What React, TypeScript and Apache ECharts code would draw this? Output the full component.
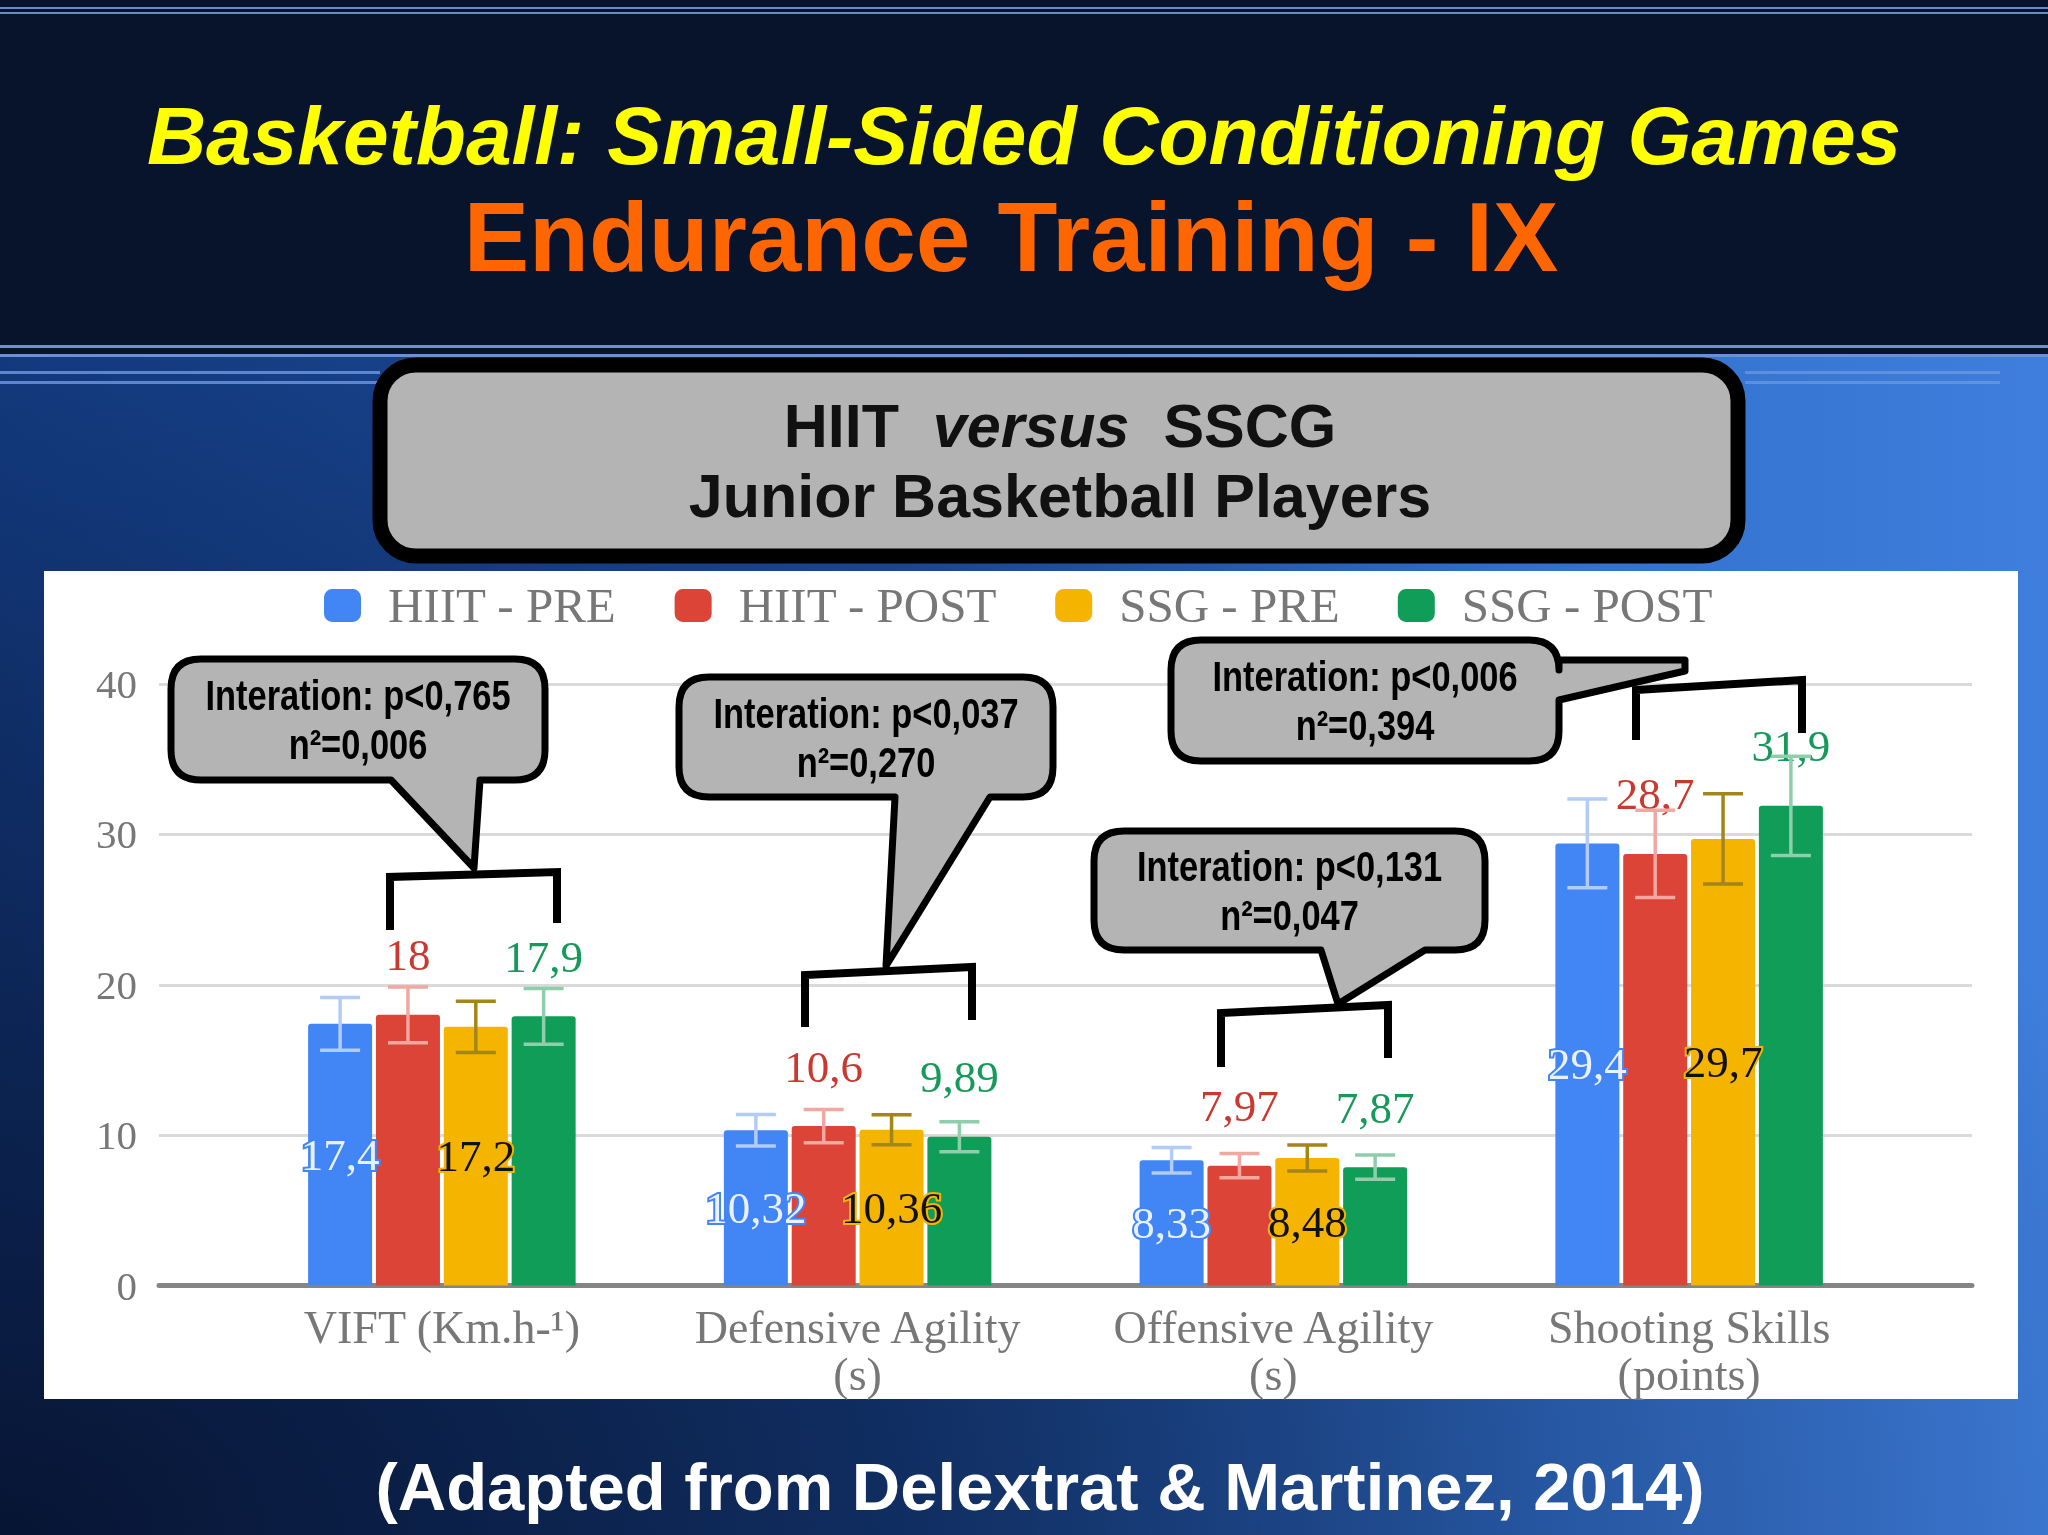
import React, { useEffect, useRef } from 'react';
import * as echarts from 'echarts';

// ---------- data ----------
const categories = ['VIFT (Km.h-¹)', 'Defensive Agility\n(s)', 'Offensive Agility\n(s)', 'Shooting Skills\n(points)'];
const seriesNames = ['HIIT - PRE', 'HIIT - POST', 'SSG - PRE', 'SSG - POST'];
const hiitPre = [17.4, 10.32, 8.33, 29.4];
const hiitPost = [18, 10.6, 7.97, 28.7];
const ssgPre = [17.2, 10.36, 8.48, 29.7];
const ssgPost = [17.9, 9.89, 7.87, 31.9];
const hiitPreErr = [1.75, 1.05, 0.85, 2.95];
const hiitPostErr = [1.85, 1.1, 0.8, 2.9];
const ssgPreErr = [1.7, 1.0, 0.87, 3.0];
const ssgPostErr = [1.85, 1.0, 0.8, 3.3];
const yMin = 0;
const yMax = 40;
const yInterval = 10;
const interactionP = ['0,765', '0,037', '0,131', '0,006'];
const etaSquared = ['0,006', '0,270', '0,047', '0,394'];

const titleLine1 = 'Basketball: Small-Sided Conditioning Games';
const titleLine2 = 'Endurance Training - IX';
const boxLine2 = 'Junior Basketball Players';
const sourceText = '(Adapted from Delextrat & Martinez, 2014)';

// ---------- styles ----------
const barColors = ['#4285f4', '#db4437', '#f4b400', '#0f9d58'];
const errColors = ['#b3cbf7', '#f2a7a0', '#a3851a', '#8dcfab'];
const BAR_W = 64;
const BAR_GAP_RATIO = 0.06;
const CAP_W = 40;
const SERIF = "'Liberation Serif', 'Times New Roman', serif";
const SANS = "'Liberation Sans', Arial, sans-serif";

const fmt = (v: number) => String(v).replace('.', ',');

// ---------- bubble shapes ----------
type Tail =
  | { side: 'bottom'; a: number; b: number; tip: [number, number] }
  | { side: 'right'; a: number; b: number; t1: [number, number]; t2: [number, number] };

function bubblePath(x: number, y: number, w: number, h: number, r: number, tail: Tail) {
  const R = x + w;
  const B = y + h;
  let d = `M${x + r},${y} L${R - r},${y} Q${R},${y} ${R},${y + r} `;
  if (tail.side === 'right') {
    d += `L${R},${tail.a} L${tail.t1[0]},${tail.t1[1]} L${tail.t2[0]},${tail.t2[1]} L${R},${tail.b} `;
  }
  d += `L${R},${B - r} Q${R},${B} ${R - r},${B} `;
  if (tail.side === 'bottom') {
    d += `L${tail.b},${B} L${tail.tip[0]},${tail.tip[1]} L${tail.a},${B} `;
  }
  d += `L${x + r},${B} Q${x},${B} ${x},${B - r} L${x},${y + r} Q${x},${y} ${x + r},${y} Z`;
  return d;
}

const bubbles = [
  { name: 'bubble1', x: 171, y: 659, w: 374, h: 121, tail: { side: 'bottom', a: 391, b: 480, tip: [474, 868] } as Tail },
  { name: 'bubble2', x: 679, y: 677, w: 374, h: 120, tail: { side: 'bottom', a: 895, b: 990, tip: [886, 966] } as Tail },
  { name: 'bubble3', x: 1094, y: 831, w: 391, h: 119, tail: { side: 'bottom', a: 1321, b: 1425, tip: [1338, 1004] } as Tail },
  { name: 'bubble4', x: 1171, y: 640, w: 388, h: 121, tail: { side: 'right', a: 660, b: 700, t1: [1685, 660], t2: [1685, 671] } as Tail },
];

bubbles.forEach((b) => {
  echarts.graphic.registerShape(b.name, echarts.graphic.extendPath(bubblePath(b.x, b.y, b.w, b.h, 30, b.tail), {}) as any);
});

const brackets: number[][][] = [
  [[390, 930], [390, 877], [557, 872], [557, 923]],
  [[805, 1027], [805, 975], [972, 967], [972, 1020]],
  [[1221, 1067], [1221, 1013], [1388, 1005], [1388, 1058]],
  [[1636, 740], [1636, 690], [1802, 680], [1802, 733]],
];

function buildOption() {
  const values = [hiitPre, hiitPost, ssgPre, ssgPost];
  const errs = [hiitPreErr, hiitPostErr, ssgPreErr, ssgPostErr];

  const barSeries = values.map((data, k) => {
    const inside = k === 0 || k === 2;
    return {
      type: 'bar',
      name: seriesNames[k],
      xAxisIndex: 1,
      yAxisIndex: 1,
      data,
      barWidth: BAR_W,
      barGap: `${BAR_GAP_RATIO * 100}%`,
      itemStyle: { color: barColors[k], borderRadius: [3, 3, 0, 0] },
      label: inside
        ? {
            show: true,
            position: 'inside',
            formatter: (p: any) => fmt(p.value),
            fontFamily: SERIF,
            fontSize: 45,
            color: k === 0 ? '#eaf1fe' : '#111111',
            textBorderColor: barColors[k],
            textBorderWidth: 4,
          }
        : {
            show: true,
            position: 'top',
            distance: 37,
            formatter: (p: any) => fmt(p.value),
            fontFamily: SERIF,
            fontSize: 45,
            color: k === 1 ? '#c9392f' : '#16995a',
          },
    };
  });

  const errSeries = values.map((data, k) => ({
    type: 'custom',
    name: seriesNames[k] + ' error',
    xAxisIndex: 1,
    yAxisIndex: 1,
    z: 5,
    data: data.map((v, i) => [i, v - errs[k][i], v + errs[k][i]]),
    encode: { x: 0, y: [1, 2] },
    renderItem: (params: any, api: any) => {
      const c = api.value(0);
      const lo = api.coord([c, api.value(1)]);
      const hi = api.coord([c, api.value(2)]);
      const x = lo[0] + (k - 1.5) * (BAR_W * (1 + BAR_GAP_RATIO));
      const style = { stroke: errColors[k], lineWidth: 3.5 };
      return {
        type: 'group',
        children: [
          { type: 'line', shape: { x1: x, y1: hi[1], x2: x, y2: lo[1] }, style },
          { type: 'line', shape: { x1: x - CAP_W / 2, y1: hi[1], x2: x + CAP_W / 2, y2: hi[1] }, style },
          { type: 'line', shape: { x1: x - CAP_W / 2, y1: lo[1], x2: x + CAP_W / 2, y2: lo[1] }, style },
        ],
      };
    },
  }));

  const bgGraphics: any[] = [
    {
      type: 'rect', z: -100, shape: { x: 0, y: 0, width: 2048, height: 1535 },
      style: {
        fill: {
          type: 'linear', x: 0, y: 0, x2: 1, y2: 0,
          colorStops: [
            { offset: 0, color: '#143d85' },
            { offset: 0.45, color: '#1c4f9f' },
            { offset: 0.75, color: '#3270cc' },
            { offset: 1, color: '#3f7edc' },
          ],
        },
      },
    },
    {
      type: 'rect', z: -99, shape: { x: 0, y: 350, width: 2048, height: 1185 },
      style: {
        fill: {
          type: 'radial', x: 0, y: 1, r: 1.1,
          colorStops: [
            { offset: 0, color: 'rgba(5,14,38,0.85)' },
            { offset: 1, color: 'rgba(5,14,38,0)' },
          ],
        },
      },
    },
    { type: 'rect', z: -98, shape: { x: 0, y: 0, width: 2048, height: 354 }, style: { fill: '#07142c' } },
    { type: 'rect', z: -97, shape: { x: 0, y: 7, width: 2048, height: 2 }, style: { fill: '#6a8bcb' } },
    { type: 'rect', z: -97, shape: { x: 0, y: 12, width: 2048, height: 2 }, style: { fill: '#6a8bcb' } },
    { type: 'rect', z: -97, shape: { x: 0, y: 345, width: 2048, height: 3 }, style: { fill: '#6c90d4' } },
    { type: 'rect', z: -97, shape: { x: 0, y: 354, width: 2048, height: 3 }, style: { fill: '#6c90d4' } },
    { type: 'rect', z: -97, shape: { x: 0, y: 371, width: 380, height: 3 }, style: { fill: '#5d86d0' } },
    { type: 'rect', z: -97, shape: { x: 0, y: 381, width: 380, height: 3 }, style: { fill: '#5d86d0' } },
    { type: 'rect', z: -97, shape: { x: 1745, y: 371, width: 255, height: 3 }, style: { fill: 'rgba(130,170,235,0.5)' } },
    { type: 'rect', z: -97, shape: { x: 1745, y: 381, width: 255, height: 3 }, style: { fill: 'rgba(130,170,235,0.5)' } },
    // white chart panel
    { type: 'rect', z: -90, shape: { x: 44, y: 571, width: 1974, height: 828 }, style: { fill: '#ffffff' } },
    // header box
    {
      type: 'rect', z: -80, shape: { x: 380, y: 365, width: 1358, height: 191, r: 36 },
      style: { fill: '#b4b4b4', stroke: '#000000', lineWidth: 15 },
    },
    {
      type: 'text', z: -79, x: 1060, y: 426,
      style: {
        text: '{a|HIIT  }{b|versus}{a|  SSCG}',
        align: 'center', verticalAlign: 'middle',
        rich: {
          a: { fontFamily: SANS, fontWeight: 'bold', fontSize: 61, fill: '#111111' },
          b: { fontFamily: SANS, fontWeight: 'bold', fontStyle: 'italic', fontSize: 61, fill: '#111111' },
        },
      },
    },
    {
      type: 'text', z: -79, x: 1060, y: 496,
      style: { text: boxLine2, align: 'center', verticalAlign: 'middle', fontFamily: SANS, fontWeight: 'bold', fontSize: 61, fill: '#111111' },
    },
    // titles
    {
      type: 'text', z: -79, x: 1024, y: 135,
      style: { text: titleLine1, align: 'center', verticalAlign: 'middle', fontFamily: SANS, fontWeight: 'bold', fontStyle: 'italic', fontSize: 82, fill: '#ffff00' },
    },
    {
      type: 'text', z: -79, x: 1011, y: 237,
      style: { text: titleLine2, align: 'center', verticalAlign: 'middle', fontFamily: SANS, fontWeight: 'bold', fontSize: 98, fill: '#ff6600' },
    },
    {
      type: 'text', z: -79, x: 1040, y: 1486,
      style: {
        text: sourceText, align: 'center', verticalAlign: 'middle', fontFamily: SANS, fontWeight: 'bold', fontSize: 67, fill: '#ffffff',
        shadowColor: '#000000', shadowOffsetX: 3, shadowOffsetY: 3, shadowBlur: 0,
      },
    },
  ];

  const fgGraphics: any[] = [];
  brackets.forEach((pts) => {
    fgGraphics.push({
      type: 'polyline', z: 60, shape: { points: pts },
      style: { stroke: '#000000', lineWidth: 8, fill: null, lineJoin: 'miter' },
    });
  });
  bubbles.forEach((b, ci) => {
    const cx = b.x + b.w / 2;
    const cy = b.y + b.h / 2;
    fgGraphics.push({
      type: b.name, z: 61, x: 0, y: 0,
      style: { fill: '#b4b4b4', stroke: '#000000', lineWidth: 7, lineJoin: 'round' },
    });
    fgGraphics.push({
      type: 'text', z: 62, x: cx, y: cy - 24, scaleX: 0.82,
      style: { text: `Interation: p<${interactionP[ci]}`, align: 'center', verticalAlign: 'middle', fontFamily: SANS, fontWeight: 'bold', fontSize: 42, fill: '#000000' },
    });
    fgGraphics.push({
      type: 'text', z: 62, x: cx, y: cy + 25, scaleX: 0.82,
      style: { text: `n²=${etaSquared[ci]}`, align: 'center', verticalAlign: 'middle', fontFamily: SANS, fontWeight: 'bold', fontSize: 42, fill: '#000000' },
    });
  });

  return {
    animation: false,
    textStyle: { fontFamily: SERIF },
    graphic: { elements: [...bgGraphics, ...fgGraphics] },
    legend: {
      data: seriesNames,
      left: 319,
      top: 576,
      icon: 'roundRect',
      itemWidth: 37,
      itemHeight: 33,
      itemGap: 58,
      textStyle: { fontFamily: SERIF, fontSize: 49, color: '#777777', padding: [0, 0, 0, 22] },
    },
    grid: [
      { left: 159, right: 76, top: 684, bottom: 249.5 },
      { left: 234, right: 151, top: 684, bottom: 249.5 },
    ],
    xAxis: [
      {
        gridIndex: 0, type: 'value', min: 0, max: 1,
        axisLine: { show: true, lineStyle: { color: '#858585', width: 5 } },
        axisTick: { show: false }, axisLabel: { show: false }, splitLine: { show: false },
      },
      {
        gridIndex: 1, type: 'category', data: categories,
        axisLine: { show: false }, axisTick: { show: false },
        axisLabel: { interval: 0, fontFamily: SERIF, fontSize: 46, color: '#777777', margin: 18, lineHeight: 47 },
      },
    ],
    yAxis: [
      {
        gridIndex: 0, type: 'value', min: yMin, max: yMax, interval: yInterval,
        axisLine: { show: false }, axisTick: { show: false },
        axisLabel: { fontFamily: SERIF, fontSize: 41, color: '#777777', margin: 22 },
        splitLine: { show: true, lineStyle: { color: '#dadada', width: 3 } },
      },
      { gridIndex: 1, type: 'value', min: yMin, max: yMax, interval: yInterval, show: false },
    ],
    series: [...barSeries, ...errSeries],
  };
}

export default function App() {
  const ref = useRef<HTMLDivElement>(null);
  useEffect(() => {
    if (!ref.current) return;
    const chart = echarts.init(ref.current, null, { renderer: 'svg' });
    chart.setOption(buildOption() as any);
    return () => chart.dispose();
  }, []);
  return <div ref={ref} style={{ position: 'fixed', left: 0, top: 0, width: 2048, height: 1535 }} />;
}
